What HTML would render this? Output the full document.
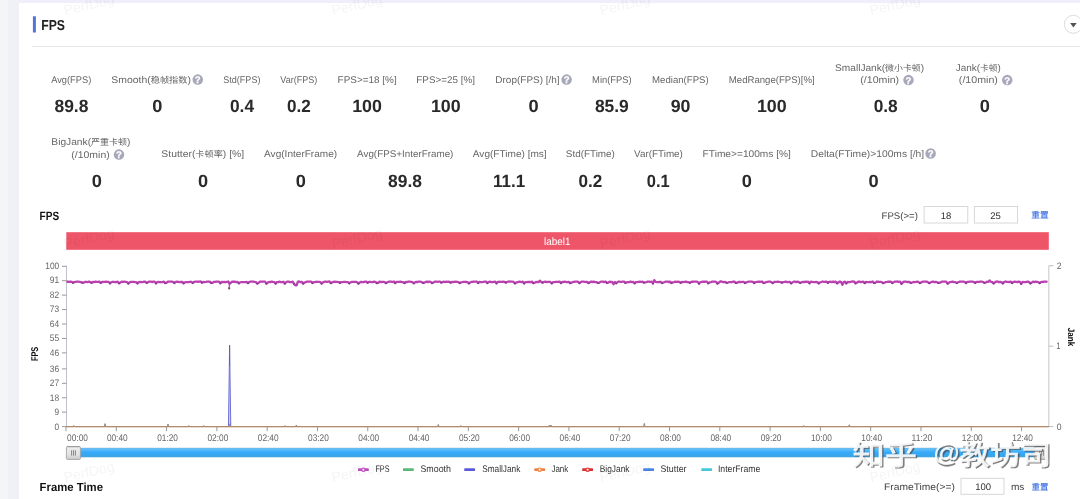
<!DOCTYPE html>
<html lang="zh-CN">
<head>
<meta charset="utf-8">
<title>PerfDog - FPS</title>
<style>
html,body{margin:0;padding:0;}
body{width:1080px;height:499px;overflow:hidden;background:#f4f5f9;position:relative;
font-family:"Liberation Sans", "Noto Sans CJK SC", sans-serif;}
.topbar{position:absolute;left:18.6px;top:0;width:1080px;height:3px;background:#efeefa;}
.side{position:absolute;left:8px;top:0;width:11px;height:499px;background:#f0f1f7;}
.card{position:absolute;left:18.6px;top:2.6px;width:1062px;height:499px;background:#fff;}
svg{position:absolute;left:0;top:0;display:block;font-family:"Liberation Sans", "Noto Sans CJK SC", sans-serif;filter:blur(0.35px);}
svg text{white-space:pre;text-rendering:geometricPrecision;}
</style>
</head>
<body>
<div class="side"></div>
<div class="topbar"></div>
<div class="card"></div>
<svg width="1080" height="499" viewBox="0 0 1080 499">
<g id="panel-header">
<rect x="32.9" y="16.3" width="3.0" height="16.2" fill="#5673d9"/>
<text x="41.20" y="30.00" font-size="14.4" fill="#222" font-weight="bold" textLength="23.80" lengthAdjust="spacingAndGlyphs">FPS</text>
<rect x="32" y="46" width="1048" height="1" fill="#e8e8eb"/>
<circle cx="1073.3" cy="24.3" r="9" fill="#fff" stroke="#dcdcdc" stroke-width="1"/>
<path d="M1070.1 22.9h6.6l-3.3 4.6z" fill="#555"/>
</g>
<g id="fps-stats">
<text x="51.20" y="82.90" font-size="9.7" fill="#666" textLength="40.10" lengthAdjust="spacingAndGlyphs">Avg(FPS)</text>
<text x="54.45" y="112.35" font-size="17.7" fill="#2a2a2a" font-weight="bold" textLength="33.93" lengthAdjust="spacingAndGlyphs">89.8</text>
<text x="111.35" y="82.90" font-size="9.7" fill="#666" textLength="79.55" lengthAdjust="spacingAndGlyphs">Smooth(<tspan font-size="8.54">稳帧指数</tspan>)</text>
<g class="help"><circle cx="197.80" cy="79.60" r="5.25" fill="#a7a8ba"/><text x="197.80" y="83.05" font-size="9.6" font-weight="bold" fill="#fff" stroke="#fff" stroke-width="0.25" text-anchor="middle">?</text></g>
<text x="152.30" y="112.35" font-size="17.7" fill="#2a2a2a" font-weight="bold" textLength="10.14" lengthAdjust="spacingAndGlyphs">0</text>
<text x="223.35" y="82.90" font-size="9.7" fill="#666" textLength="37.05" lengthAdjust="spacingAndGlyphs">Std(FPS)</text>
<text x="229.95" y="112.35" font-size="17.7" fill="#2a2a2a" font-weight="bold" textLength="24.08" lengthAdjust="spacingAndGlyphs">0.4</text>
<text x="280.35" y="82.90" font-size="9.7" fill="#666" textLength="37.05" lengthAdjust="spacingAndGlyphs">Var(FPS)</text>
<text x="287.10" y="112.35" font-size="17.7" fill="#2a2a2a" font-weight="bold" textLength="23.79" lengthAdjust="spacingAndGlyphs">0.2</text>
<text x="337.60" y="82.90" font-size="9.7" fill="#666" textLength="59.05" lengthAdjust="spacingAndGlyphs">FPS&gt;=18 [%]</text>
<text x="352.15" y="112.35" font-size="17.7" fill="#2a2a2a" font-weight="bold" textLength="29.74" lengthAdjust="spacingAndGlyphs">100</text>
<text x="416.35" y="82.90" font-size="9.7" fill="#666" textLength="58.55" lengthAdjust="spacingAndGlyphs">FPS&gt;=25 [%]</text>
<text x="430.95" y="112.35" font-size="17.7" fill="#2a2a2a" font-weight="bold" textLength="29.74" lengthAdjust="spacingAndGlyphs">100</text>
<text x="495.35" y="82.90" font-size="9.7" fill="#666" textLength="64.30" lengthAdjust="spacingAndGlyphs">Drop(FPS) [/h]</text>
<g class="help"><circle cx="566.60" cy="79.60" r="5.25" fill="#a7a8ba"/><text x="566.60" y="83.05" font-size="9.6" font-weight="bold" fill="#fff" stroke="#fff" stroke-width="0.25" text-anchor="middle">?</text></g>
<text x="528.60" y="112.35" font-size="17.7" fill="#2a2a2a" font-weight="bold" textLength="10.14" lengthAdjust="spacingAndGlyphs">0</text>
<text x="592.10" y="82.90" font-size="9.7" fill="#666" textLength="39.55" lengthAdjust="spacingAndGlyphs">Min(FPS)</text>
<text x="594.90" y="112.35" font-size="17.7" fill="#2a2a2a" font-weight="bold" textLength="33.93" lengthAdjust="spacingAndGlyphs">85.9</text>
<text x="652.10" y="82.90" font-size="9.7" fill="#666" textLength="56.55" lengthAdjust="spacingAndGlyphs">Median(FPS)</text>
<text x="670.65" y="112.35" font-size="17.7" fill="#2a2a2a" font-weight="bold" textLength="19.79" lengthAdjust="spacingAndGlyphs">90</text>
<text x="728.85" y="82.90" font-size="9.7" fill="#666" textLength="85.80" lengthAdjust="spacingAndGlyphs">MedRange(FPS)[%]</text>
<text x="756.95" y="112.35" font-size="17.7" fill="#2a2a2a" font-weight="bold" textLength="29.74" lengthAdjust="spacingAndGlyphs">100</text>
<text x="835.10" y="71.00" font-size="9.7" fill="#666" textLength="89.05" lengthAdjust="spacingAndGlyphs">SmallJank(<tspan font-size="8.54">微小卡顿</tspan>)</text>
<text x="860.35" y="83.40" font-size="9.7" fill="#666" textLength="38.80" lengthAdjust="spacingAndGlyphs">(/10min)</text>
<g class="help"><circle cx="908.50" cy="80.10" r="5.25" fill="#a7a8ba"/><text x="908.50" y="83.55" font-size="9.6" font-weight="bold" fill="#fff" stroke="#fff" stroke-width="0.25" text-anchor="middle">?</text></g>
<text x="873.65" y="112.35" font-size="17.7" fill="#2a2a2a" font-weight="bold" textLength="24.08" lengthAdjust="spacingAndGlyphs">0.8</text>
<text x="955.85" y="71.00" font-size="9.7" fill="#666" textLength="45.05" lengthAdjust="spacingAndGlyphs">Jank(<tspan font-size="8.54">卡顿</tspan>)</text>
<text x="958.85" y="83.40" font-size="9.7" fill="#666" textLength="39.05" lengthAdjust="spacingAndGlyphs">(/10min)</text>
<g class="help"><circle cx="1007.25" cy="80.10" r="5.25" fill="#a7a8ba"/><text x="1007.25" y="83.55" font-size="9.6" font-weight="bold" fill="#fff" stroke="#fff" stroke-width="0.25" text-anchor="middle">?</text></g>
<text x="979.80" y="112.35" font-size="17.7" fill="#2a2a2a" font-weight="bold" textLength="10.14" lengthAdjust="spacingAndGlyphs">0</text>
<text x="51.35" y="145.00" font-size="9.7" fill="#666" textLength="79.05" lengthAdjust="spacingAndGlyphs">BigJank(<tspan font-size="8.54">严重卡顿</tspan>)</text>
<text x="71.35" y="157.60" font-size="9.7" fill="#666" textLength="38.35" lengthAdjust="spacingAndGlyphs">(/10min)</text>
<g class="help"><circle cx="119.00" cy="154.60" r="5.25" fill="#a7a8ba"/><text x="119.00" y="158.05" font-size="9.6" font-weight="bold" fill="#fff" stroke="#fff" stroke-width="0.25" text-anchor="middle">?</text></g>
<text x="91.70" y="186.80" font-size="17.7" fill="#2a2a2a" font-weight="bold" textLength="10.14" lengthAdjust="spacingAndGlyphs">0</text>
<text x="161.35" y="156.85" font-size="9.7" fill="#666" textLength="82.80" lengthAdjust="spacingAndGlyphs">Stutter(<tspan font-size="8.54">卡顿率</tspan>) [%]</text>
<text x="197.95" y="186.80" font-size="17.7" fill="#2a2a2a" font-weight="bold" textLength="10.14" lengthAdjust="spacingAndGlyphs">0</text>
<text x="264.10" y="156.85" font-size="9.7" fill="#666" textLength="73.05" lengthAdjust="spacingAndGlyphs">Avg(InterFrame)</text>
<text x="295.80" y="186.80" font-size="17.7" fill="#2a2a2a" font-weight="bold" textLength="10.14" lengthAdjust="spacingAndGlyphs">0</text>
<text x="357.10" y="156.85" font-size="9.7" fill="#666" textLength="96.30" lengthAdjust="spacingAndGlyphs">Avg(FPS+InterFrame)</text>
<text x="388.10" y="186.80" font-size="17.7" fill="#2a2a2a" font-weight="bold" textLength="33.93" lengthAdjust="spacingAndGlyphs">89.8</text>
<text x="472.85" y="156.85" font-size="9.7" fill="#666" textLength="73.80" lengthAdjust="spacingAndGlyphs">Avg(FTime) [ms]</text>
<text x="493.00" y="186.80" font-size="17.7" fill="#2a2a2a" font-weight="bold" textLength="32.17" lengthAdjust="spacingAndGlyphs">11.1</text>
<text x="565.85" y="156.85" font-size="9.7" fill="#666" textLength="49.05" lengthAdjust="spacingAndGlyphs">Std(FTime)</text>
<text x="578.60" y="186.80" font-size="17.7" fill="#2a2a2a" font-weight="bold" textLength="23.79" lengthAdjust="spacingAndGlyphs">0.2</text>
<text x="634.10" y="156.85" font-size="9.7" fill="#666" textLength="48.80" lengthAdjust="spacingAndGlyphs">Var(FTime)</text>
<text x="646.85" y="186.80" font-size="17.7" fill="#2a2a2a" font-weight="bold" textLength="22.91" lengthAdjust="spacingAndGlyphs">0.1</text>
<text x="702.60" y="156.85" font-size="9.7" fill="#666" textLength="88.30" lengthAdjust="spacingAndGlyphs">FTime&gt;=100ms [%]</text>
<text x="741.80" y="186.80" font-size="17.7" fill="#2a2a2a" font-weight="bold" textLength="10.14" lengthAdjust="spacingAndGlyphs">0</text>
<text x="810.85" y="156.85" font-size="9.7" fill="#666" textLength="113.30" lengthAdjust="spacingAndGlyphs">Delta(FTime)&gt;100ms [/h]</text>
<g class="help"><circle cx="930.60" cy="153.55" r="5.25" fill="#a7a8ba"/><text x="930.60" y="157.00" font-size="9.6" font-weight="bold" fill="#fff" stroke="#fff" stroke-width="0.25" text-anchor="middle">?</text></g>
<text x="868.60" y="186.80" font-size="17.7" fill="#2a2a2a" font-weight="bold" textLength="10.14" lengthAdjust="spacingAndGlyphs">0</text>
</g>
<g id="fps-chart-toolbar">
<text x="39.60" y="219.80" font-size="12" fill="#111" font-weight="bold" textLength="19.55" lengthAdjust="spacingAndGlyphs">FPS</text>
<text x="881.50" y="218.80" font-size="9.6" fill="#444" textLength="36.40" lengthAdjust="spacingAndGlyphs">FPS(&gt;=)</text>
<rect x="924.10" y="206.5" width="43.65" height="16.5" fill="#fff" stroke="#d8d8d8" stroke-width="1"/>
<text x="946.10" y="218.50" font-size="9.5" fill="#333" text-anchor="middle">18</text>
<rect x="974.40" y="206.5" width="43.10" height="16.5" fill="#fff" stroke="#d8d8d8" stroke-width="1"/>
<text x="995.60" y="218.50" font-size="9.5" fill="#333" text-anchor="middle">25</text>
<text x="1031.30" y="218.30" font-size="8.6" fill="#5380e6" font-weight="bold" textLength="17.40" lengthAdjust="spacingAndGlyphs">重置</text>
<rect x="66.3" y="232.2" width="982.5" height="17.6" fill="#ee5568"/>
<text x="544.10" y="244.70" font-size="10.6" fill="#fff" textLength="26.30" lengthAdjust="spacingAndGlyphs">label1</text>
</g>
<g id="fps-chart-plot">
<path d="M66.5 265.8V427.1" stroke="#c0c2d0" stroke-width="1" fill="none"/>
<path d="M1048.8 265.8V427.1" stroke="#cfcfcf" stroke-width="1.2" fill="none"/>
<text x="54.60" y="429.80" font-size="9.4" fill="#666" textLength="4.60" lengthAdjust="spacingAndGlyphs">0</text>
<text x="54.60" y="415.29" font-size="9.4" fill="#666" textLength="4.60" lengthAdjust="spacingAndGlyphs">9</text>
<text x="49.80" y="400.78" font-size="9.4" fill="#666" textLength="9.40" lengthAdjust="spacingAndGlyphs">18</text>
<text x="49.80" y="386.28" font-size="9.4" fill="#666" textLength="9.40" lengthAdjust="spacingAndGlyphs">27</text>
<text x="49.80" y="371.77" font-size="9.4" fill="#666" textLength="9.40" lengthAdjust="spacingAndGlyphs">36</text>
<text x="49.80" y="355.65" font-size="9.4" fill="#666" textLength="9.40" lengthAdjust="spacingAndGlyphs">46</text>
<text x="49.80" y="341.14" font-size="9.4" fill="#666" textLength="9.40" lengthAdjust="spacingAndGlyphs">55</text>
<text x="49.80" y="326.63" font-size="9.4" fill="#666" textLength="9.40" lengthAdjust="spacingAndGlyphs">64</text>
<text x="49.80" y="312.12" font-size="9.4" fill="#666" textLength="9.40" lengthAdjust="spacingAndGlyphs">73</text>
<text x="49.80" y="297.62" font-size="9.4" fill="#666" textLength="9.40" lengthAdjust="spacingAndGlyphs">82</text>
<text x="49.80" y="283.11" font-size="9.4" fill="#666" textLength="9.40" lengthAdjust="spacingAndGlyphs">91</text>
<text x="45.30" y="268.60" font-size="9.4" fill="#666" textLength="13.90" lengthAdjust="spacingAndGlyphs">100</text>
<path d="M62.0 426.60H66.5M62.0 412.17H66.5M62.0 397.75H66.5M62.0 383.32H66.5M62.0 368.89H66.5M62.0 352.86H66.5M62.0 338.44H66.5M62.0 324.01H66.5M62.0 309.58H66.5M62.0 295.15H66.5M62.0 280.73H66.5M62.0 266.30H66.5" stroke="#999" stroke-width="1" fill="none"/>
<text x="1056.70" y="429.80" font-size="9.4" fill="#666" textLength="4.80" lengthAdjust="spacingAndGlyphs">0</text>
<text x="1056.30" y="349.20" font-size="9.4" fill="#666" textLength="4.30" lengthAdjust="spacingAndGlyphs">1</text>
<text x="1056.70" y="268.60" font-size="9.4" fill="#666" textLength="4.80" lengthAdjust="spacingAndGlyphs">2</text>
<path d="M1048.8 426.60h4.5M1048.8 346.15h4.5M1048.8 265.70h4.5" stroke="#bbb" stroke-width="1" fill="none"/>
<text x="67.10" y="440.80" font-size="9.6" fill="#666" textLength="20.80" lengthAdjust="spacingAndGlyphs">00:00</text>
<text x="106.89" y="440.80" font-size="9.6" fill="#666" textLength="20.80" lengthAdjust="spacingAndGlyphs">00:40</text>
<text x="157.18" y="440.80" font-size="9.6" fill="#666" textLength="20.80" lengthAdjust="spacingAndGlyphs">01:20</text>
<text x="207.47" y="440.80" font-size="9.6" fill="#666" textLength="20.80" lengthAdjust="spacingAndGlyphs">02:00</text>
<text x="257.77" y="440.80" font-size="9.6" fill="#666" textLength="20.80" lengthAdjust="spacingAndGlyphs">02:40</text>
<text x="308.06" y="440.80" font-size="9.6" fill="#666" textLength="20.80" lengthAdjust="spacingAndGlyphs">03:20</text>
<text x="358.35" y="440.80" font-size="9.6" fill="#666" textLength="20.80" lengthAdjust="spacingAndGlyphs">04:00</text>
<text x="408.64" y="440.80" font-size="9.6" fill="#666" textLength="20.80" lengthAdjust="spacingAndGlyphs">04:40</text>
<text x="458.93" y="440.80" font-size="9.6" fill="#666" textLength="20.80" lengthAdjust="spacingAndGlyphs">05:20</text>
<text x="509.22" y="440.80" font-size="9.6" fill="#666" textLength="20.80" lengthAdjust="spacingAndGlyphs">06:00</text>
<text x="559.52" y="440.80" font-size="9.6" fill="#666" textLength="20.80" lengthAdjust="spacingAndGlyphs">06:40</text>
<text x="609.81" y="440.80" font-size="9.6" fill="#666" textLength="20.80" lengthAdjust="spacingAndGlyphs">07:20</text>
<text x="660.10" y="440.80" font-size="9.6" fill="#666" textLength="20.80" lengthAdjust="spacingAndGlyphs">08:00</text>
<text x="710.39" y="440.80" font-size="9.6" fill="#666" textLength="20.80" lengthAdjust="spacingAndGlyphs">08:40</text>
<text x="760.68" y="440.80" font-size="9.6" fill="#666" textLength="20.80" lengthAdjust="spacingAndGlyphs">09:20</text>
<text x="810.98" y="440.80" font-size="9.6" fill="#666" textLength="20.80" lengthAdjust="spacingAndGlyphs">10:00</text>
<text x="861.27" y="440.80" font-size="9.6" fill="#666" textLength="20.80" lengthAdjust="spacingAndGlyphs">10:40</text>
<text x="911.56" y="440.80" font-size="9.6" fill="#666" textLength="20.80" lengthAdjust="spacingAndGlyphs">11:20</text>
<text x="961.85" y="440.80" font-size="9.6" fill="#666" textLength="20.80" lengthAdjust="spacingAndGlyphs">12:00</text>
<text x="1012.14" y="440.80" font-size="9.6" fill="#666" textLength="20.80" lengthAdjust="spacingAndGlyphs">12:40</text>
<path d="M66.00 426.6v4.6M116.29 426.6v4.6M166.58 426.6v4.6M216.88 426.6v4.6M267.17 426.6v4.6M317.46 426.6v4.6M367.75 426.6v4.6M418.04 426.6v4.6M468.33 426.6v4.6M518.62 426.6v4.6M568.92 426.6v4.6M619.21 426.6v4.6M669.50 426.6v4.6M719.79 426.6v4.6M770.08 426.6v4.6M820.38 426.6v4.6M870.67 426.6v4.6M920.96 426.6v4.6M971.25 426.6v4.6M1021.54 426.6v4.6" stroke="#999" stroke-width="1" fill="none"/>
<text transform="translate(38.2 353.9) rotate(-90)" font-size="9.8" font-weight="bold" fill="#111" text-anchor="middle" textLength="14.4" lengthAdjust="spacingAndGlyphs">FPS</text>
<text transform="translate(1068.2 337) rotate(90)" font-size="9.4" font-weight="bold" fill="#111" text-anchor="middle" textLength="18.5" lengthAdjust="spacingAndGlyphs">Jank</text>
<path d="M228.45 426.6L229.6 345.4L230.75 426.6" fill="#d0d0f4" stroke="#6a6ad4" stroke-width="0.95" stroke-linejoin="round"/>
<path d="M229.6 345.2V366" stroke="#606088" stroke-width="0.8" fill="none"/>
<path d="M228.4 423.40000000000003l2.4 3M230.79999999999998 423.40000000000003l-2.4 3" stroke="#6a6aa8" stroke-width="0.6" fill="none"/>
<path d="M66.5 426.6L73.0 426.6L73.8 425.5L74.6 426.6L104.2 426.6L105.0 423.6L105.8 426.6L167.2 426.6L168.0 424.0L168.8 426.6L188.0 426.6L188.8 425.5L189.6 426.6L203.0 426.6L203.8 425.5L204.6 426.6L284.2 426.6L285.0 425.5L285.8 426.6L295.5 426.6L296.3 425.0L297.1 426.6L437.5 426.6L438.3 424.5L439.1 426.6L460.0 426.6L460.8 425.5L461.6 426.6L548.6 426.6L549.4 425.0L550.2 426.6L550.2 426.6L551.0 425.0L551.8 426.6L643.5 426.6L644.3 423.4L645.1 426.6L803.0 426.6L803.8 425.5L804.6 426.6L848.5 426.6L849.3 424.7L850.1 426.6L1048.8 426.6" stroke="#8a8468" stroke-width="1" fill="none" opacity="0.9"/>
<path d="M66.5 426.70000000000005H1048.8" stroke="#b08c6c" stroke-width="1.25" fill="none"/>
<path d="M66.5 281.73L67.8 281.61L69.1 281.96L70.4 281.55L71.8 281.88L73.1 282.70L74.4 282.08L75.7 281.80L77.0 281.55L78.3 281.56L79.6 281.80L81.0 282.08L82.3 282.67L83.6 282.71L84.9 281.90L86.2 281.78L87.5 282.18L88.9 281.53L90.2 282.10L91.5 282.72L92.8 281.97L94.1 282.07L95.4 281.63L96.7 281.91L98.1 281.95L99.4 281.76L100.7 282.83L102.0 281.87L103.3 281.98L104.6 281.80L105.9 281.72L107.3 281.91L108.6 281.82L109.9 283.25L111.2 282.34L112.5 281.90L113.8 281.87L115.2 282.11L116.5 282.01L117.8 281.70L119.1 283.18L120.4 282.45L121.7 281.61L123.0 281.84L124.4 281.53L125.7 281.97L127.0 282.04L128.3 283.50L129.6 282.34L130.9 281.92L132.2 281.91L133.6 281.82L134.9 282.09L136.2 282.16L137.5 283.26L138.8 282.16L140.1 281.95L141.5 282.20L142.8 282.08L144.1 281.70L145.4 281.77L146.7 282.89L148.0 282.12L149.3 281.58L150.7 281.54L152.0 282.04L153.3 281.59L154.6 281.67L155.9 283.37L157.2 282.03L158.5 281.88L159.9 282.12L161.2 282.07L162.5 282.10L163.8 281.69L165.1 282.98L166.4 282.89L167.8 281.61L169.1 281.62L170.4 281.66L171.7 281.66L173.0 281.84L174.3 283.02L175.6 281.95L177.0 281.76L178.3 281.90L179.6 282.17L180.9 281.98L182.2 281.86L183.5 283.37L184.8 282.28L186.2 282.05L187.5 282.11L188.8 282.06L190.1 281.77L191.4 281.78L192.7 282.98L194.1 281.78L195.4 281.65L196.7 281.61L198.0 281.74L199.3 281.54L200.6 281.50L201.9 282.59L203.3 281.97L204.6 282.11L205.9 281.93L207.2 281.60L208.5 281.68L209.8 281.74L211.1 282.75L212.5 282.89L213.8 281.83L215.1 281.84L216.4 281.56L217.7 281.57L219.0 281.74L220.4 283.25L221.7 281.83L223.0 282.17L224.3 281.87L225.6 282.25L226.9 281.88L228.2 281.52L229.6 283.55L230.9 282.72L232.2 281.68L233.5 281.76L234.8 281.62L236.1 282.04L237.4 281.87L238.8 283.21L240.1 282.34L241.4 282.19L242.7 282.10L244.0 282.06L245.3 282.07L246.7 282.02L248.0 282.97L249.3 281.97L250.6 281.52L251.9 281.70L253.2 281.68L254.5 281.98L255.9 282.17L257.2 283.46L258.5 282.96L259.8 281.76L261.1 281.65L262.4 281.66L263.7 281.64L265.1 281.64L266.4 283.56L267.7 282.58L269.0 281.96L270.3 282.06L271.6 281.56L273.0 281.96L274.3 282.14L275.6 283.55L276.9 282.14L278.2 282.05L279.5 281.73L280.8 282.06L282.2 282.18L283.5 281.78L284.8 283.44L286.1 282.31L287.4 281.59L288.7 281.61L290.0 282.13L291.4 282.06L292.7 281.60L294.0 283.76L295.3 285.25L296.6 285.25L297.9 281.59L299.3 281.51L300.6 282.18L301.9 281.95L303.2 283.52L304.5 282.53L305.8 282.08L307.1 281.65L308.5 281.68L309.8 281.71L311.1 281.67L312.4 283.02L313.7 282.07L315.0 282.14L316.3 281.75L317.7 281.82L319.0 281.91L320.3 282.13L321.6 283.43L322.9 282.37L324.2 281.87L325.6 281.51L326.9 281.81L328.2 281.63L329.5 281.50L330.8 283.10L332.1 282.47L333.4 281.89L334.8 281.73L336.1 281.86L337.4 281.89L338.7 282.05L340.0 282.92L341.3 282.04L342.6 282.04L344.0 281.86L345.3 281.89L346.6 282.03L347.9 282.14L349.2 283.20L350.5 282.36L351.9 281.98L353.2 281.82L354.5 281.87L355.8 281.83L357.1 282.16L358.4 283.59L359.7 282.52L361.1 281.89L362.4 282.16L363.7 282.09L365.0 281.60L366.3 281.59L367.6 282.77L368.9 281.91L370.3 281.97L371.6 282.05L372.9 282.13L374.2 281.61L375.5 282.00L376.8 282.98L378.2 282.90L379.5 281.65L380.8 282.17L382.1 281.78L383.4 281.84L384.7 282.19L386.0 283.11L387.4 282.31L388.7 281.74L390.0 281.64L391.3 281.72L392.6 282.01L393.9 281.51L395.2 283.14L396.6 281.91L397.9 281.94L399.2 281.86L400.5 281.55L401.8 282.19L403.1 282.05L404.5 283.16L405.8 281.91L407.1 282.05L408.4 281.69L409.7 281.59L411.0 281.80L412.3 282.14L413.7 283.18L415.0 282.36L416.3 281.90L417.6 281.99L418.9 281.56L420.2 281.54L421.5 281.98L422.9 282.76L424.2 282.74L425.5 282.06L426.8 281.56L428.1 282.10L429.4 281.55L430.8 282.10L432.1 282.99L433.4 282.64L434.7 281.69L436.0 281.59L437.3 281.87L438.6 281.67L440.0 281.58L441.3 282.55L442.6 282.03L443.9 281.71L445.2 282.03L446.5 281.70L447.8 281.85L449.2 281.62L450.5 282.66L451.8 281.88L453.1 282.01L454.4 281.89L455.7 281.63L457.1 281.83L458.4 282.15L459.7 283.13L461.0 282.30L462.3 282.08L463.6 281.78L464.9 281.85L466.3 281.98L467.6 282.19L468.9 283.31L470.2 282.58L471.5 281.78L472.8 281.74L474.1 281.54L475.5 281.59L476.8 281.55L478.1 283.12L479.4 281.86L480.7 282.09L482.0 282.11L483.4 281.97L484.7 281.70L486.0 281.67L487.3 282.97L488.6 282.08L489.9 281.68L491.2 282.17L492.6 282.18L493.9 281.88L495.2 281.67L496.5 283.32L497.8 281.95L499.1 281.77L500.4 281.83L501.8 281.85L503.1 281.64L504.4 281.85L505.7 282.61L507.0 282.00L508.3 281.53L509.7 281.52L511.0 281.71L512.3 281.66L513.6 281.91L514.9 283.37L516.2 282.59L517.5 282.12L518.9 281.77L520.2 281.73L521.5 282.19L522.8 281.60L524.1 283.42L525.4 282.23L526.7 282.12L528.1 281.94L529.4 282.01L530.7 282.07L532.0 281.60L533.3 283.17L534.6 282.77L536.0 282.08L537.3 281.91L538.6 282.12L539.9 280.65L541.2 281.99L542.5 282.59L543.8 282.01L545.2 281.57L546.5 282.09L547.8 281.89L549.1 281.94L550.4 281.94L551.7 283.27L553.1 282.18L554.4 282.02L555.7 281.85L557.0 281.87L558.3 281.96L559.6 281.55L560.9 283.12L562.3 281.91L563.6 282.01L564.9 281.64L566.2 282.02L567.5 282.18L568.8 281.85L570.1 283.05L571.5 282.64L572.8 281.93L574.1 281.95L575.4 281.55L576.7 281.60L578.0 281.68L579.4 283.16L580.7 282.10L582.0 281.54L583.3 281.69L584.6 281.97L585.9 281.98L587.2 281.97L588.6 283.02L589.9 282.31L591.2 281.58L592.5 282.13L593.8 281.64L595.1 282.18L596.4 282.16L597.8 282.78L599.1 282.85L600.4 281.81L601.7 281.69L603.0 281.65L604.3 282.16L605.7 281.65L607.0 282.92L608.3 282.64L609.6 281.59L610.9 282.07L612.2 281.86L613.5 284.25L614.9 281.99L616.2 283.28L617.5 282.06L618.8 281.50L620.1 281.84L621.4 281.82L622.7 281.71L624.1 281.60L625.4 282.89L626.7 282.29L628.0 282.03L629.3 282.09L630.6 281.58L632.0 282.15L633.3 282.00L634.6 283.26L635.9 282.20L637.2 282.20L638.5 281.91L639.8 281.75L641.2 281.80L642.5 281.69L643.8 282.52L645.1 282.46L646.4 282.15L647.7 281.67L649.0 281.69L650.4 281.86L651.7 281.63L653.0 283.43L654.3 280.15L655.6 281.94L656.9 282.14L658.3 282.16L659.6 281.88L660.9 282.00L662.2 283.02L663.5 282.47L664.8 281.95L666.1 281.70L667.5 281.53L668.8 282.15L670.1 281.59L671.4 283.01L672.7 282.35L674.0 282.18L675.3 281.68L676.7 281.96L678.0 281.71L679.3 281.89L680.6 282.81L681.9 281.94L683.2 282.13L684.6 281.85L685.9 281.65L687.2 282.13L688.5 282.20L689.8 282.83L691.1 281.89L692.4 281.74L693.8 281.56L695.1 281.67L696.4 281.68L697.7 281.90L699.0 283.62L700.3 282.24L701.6 281.87L703.0 281.76L704.3 281.74L705.6 281.54L706.9 281.69L708.2 283.18L709.5 282.43L710.9 282.10L712.2 281.65L713.5 281.69L714.8 281.67L716.1 281.78L717.4 283.48L718.7 282.82L720.1 281.52L721.4 281.52L722.7 282.00L724.0 282.13L725.3 281.83L726.6 282.81L727.9 282.53L729.3 282.08L730.6 282.10L731.9 282.18L733.2 281.67L734.5 281.58L735.8 282.93L737.2 282.74L738.5 282.01L739.8 281.95L741.1 282.04L742.4 281.82L743.7 281.89L745.0 283.05L746.4 282.41L747.7 281.95L749.0 281.71L750.3 281.59L751.6 281.68L752.9 281.95L754.2 282.98L755.6 282.06L756.9 281.91L758.2 281.77L759.5 281.66L760.8 281.92L762.1 281.51L763.5 282.98L764.8 282.76L766.1 282.12L767.4 281.83L768.7 281.66L770.0 281.67L771.3 282.17L772.7 283.14L774.0 282.01L775.3 281.97L776.6 281.79L777.9 281.68L779.2 281.97L780.5 282.15L781.9 282.59L783.2 282.19L784.5 281.98L785.8 281.64L787.1 282.06L788.4 282.02L789.8 281.85L791.1 283.32L792.4 282.41L793.7 281.66L795.0 281.66L796.3 282.03L797.6 281.71L799.0 282.17L800.3 282.90L801.6 282.11L802.9 281.97L804.2 282.16L805.5 281.60L806.8 281.78L808.2 281.65L809.5 283.20L810.8 281.77L812.1 281.78L813.4 282.13L814.7 282.12L816.1 282.01L817.4 282.20L818.7 283.32L820.0 282.39L821.3 282.02L822.6 281.52L823.9 281.97L825.3 281.77L826.6 281.76L827.9 282.77L829.2 281.87L830.5 281.75L831.8 282.17L833.1 281.59L834.5 282.17L835.8 281.65L837.1 283.31L838.4 282.53L839.7 281.53L841.0 281.83L842.4 284.85L843.7 282.14L845.0 281.64L846.3 283.37L847.6 281.97L848.9 282.07L850.2 282.04L851.6 281.53L852.9 281.52L854.2 281.54L855.5 283.25L856.8 282.76L858.1 281.74L859.4 281.69L860.8 282.17L862.1 281.93L863.4 281.68L864.7 283.15L866.0 281.90L867.3 282.03L868.7 282.14L870.0 281.94L871.3 282.16L872.6 281.52L873.9 282.94L875.2 282.94L876.5 281.77L877.9 281.68L879.2 281.80L880.5 281.85L881.8 282.15L883.1 283.17L884.4 282.71L885.7 282.04L887.1 281.93L888.4 281.73L889.7 281.72L891.0 281.75L892.3 283.01L893.6 282.29L895.0 281.67L896.3 281.55L897.6 281.52L898.9 281.89L900.2 281.73L901.5 283.79L902.8 282.55L904.2 281.56L905.5 281.57L906.8 281.85L908.1 282.00L909.4 281.81L910.7 282.90L912.0 282.54L913.4 282.02L914.7 282.09L916.0 281.97L917.3 281.58L918.6 282.09L919.9 283.06L921.3 282.40L922.6 281.64L923.9 281.67L925.2 281.67L926.5 281.61L927.8 282.12L929.1 283.07L930.5 282.57L931.8 281.86L933.1 281.66L934.4 282.07L935.7 281.96L937.0 282.19L938.3 282.85L939.7 282.78L941.0 282.14L942.3 281.53L943.6 281.71L944.9 281.58L946.2 281.63L947.6 283.55L948.9 282.57L950.2 282.11L951.5 281.81L952.8 281.68L954.1 282.04L955.4 282.16L956.8 282.95L958.1 282.26L959.4 281.76L960.7 281.60L962.0 281.64L963.3 281.68L964.6 281.92L966.0 283.02L967.3 281.90L968.6 281.97L969.9 281.63L971.2 281.72L972.5 281.64L973.9 282.06L975.2 282.83L976.5 282.01L977.8 281.89L979.1 281.95L980.4 281.56L981.7 281.61L983.1 281.99L984.4 282.91L985.7 282.49L987.0 281.72L988.3 281.90L989.6 280.45L990.9 281.79L992.3 282.10L993.6 283.39L994.9 282.27L996.2 281.64L997.5 281.50L998.8 282.13L1000.2 281.80L1001.5 282.07L1002.8 283.39L1004.1 282.12L1005.4 281.51L1006.7 281.89L1008.0 281.95L1009.4 282.14L1010.7 281.56L1012.0 283.13L1013.3 282.14L1014.6 281.70L1015.9 281.86L1017.2 282.15L1018.6 281.58L1019.9 281.84L1021.2 283.74L1022.5 281.91L1023.8 282.16L1025.1 282.18L1026.5 281.84L1027.8 281.54L1029.1 282.15L1030.4 283.39L1031.7 282.63L1033.0 281.61L1034.3 282.05L1035.7 281.66L1037.0 281.78L1038.3 282.09L1039.6 283.13L1040.9 282.09L1042.2 281.86L1043.5 281.77L1044.9 281.59L1046.2 281.67L1047.5 282.01" stroke="#ba41af" stroke-width="2.3" stroke-linejoin="round" fill="none"/>
<path d="M72.2 282.90h1.8M81.4 282.87h1.8M90.6 282.92h1.8M99.8 283.03h1.8M109.0 283.45h1.8M118.2 283.38h1.8M127.4 283.70h1.8M136.6 283.46h1.8M145.8 283.09h1.8M155.0 283.57h1.8M164.2 283.18h1.8M173.4 283.22h1.8M182.6 283.57h1.8M191.8 283.18h1.8M201.0 282.79h1.8M210.2 282.95h1.8M219.5 283.45h1.8M228.7 283.75h1.8M237.9 283.41h1.8M247.1 283.17h1.8M256.3 283.66h1.8M265.5 283.76h1.8M274.7 283.75h1.8M283.9 283.64h1.8M293.1 283.96h1.8M302.3 283.72h1.8M311.5 283.22h1.8M320.7 283.63h1.8M329.9 283.30h1.8M339.1 283.12h1.8M348.3 283.40h1.8M357.5 283.79h1.8M366.7 282.97h1.8M375.9 283.18h1.8M385.1 283.31h1.8M394.3 283.34h1.8M403.6 283.36h1.8M412.8 283.38h1.8M422.0 282.96h1.8M431.2 283.19h1.8M440.4 282.75h1.8M449.6 282.86h1.8M458.8 283.33h1.8M468.0 283.51h1.8M477.2 283.32h1.8M486.4 283.17h1.8M495.6 283.52h1.8M504.8 282.81h1.8M514.0 283.57h1.8M523.2 283.62h1.8M532.4 283.37h1.8M541.6 282.79h1.8M550.8 283.47h1.8M560.0 283.32h1.8M569.2 283.25h1.8M578.5 283.36h1.8M587.7 283.22h1.8M596.9 282.98h1.8M606.1 283.12h1.8M615.3 283.48h1.8M624.5 283.09h1.8M633.7 283.46h1.8M642.9 282.72h1.8M652.1 283.63h1.8M661.3 283.22h1.8M670.5 283.21h1.8M679.7 283.01h1.8M688.9 283.03h1.8M698.1 283.82h1.8M707.3 283.38h1.8M716.5 283.68h1.8M725.7 283.01h1.8M734.9 283.13h1.8M744.1 283.25h1.8M753.3 283.18h1.8M762.6 283.18h1.8M771.8 283.34h1.8M781.0 282.79h1.8M790.2 283.52h1.8M799.4 283.10h1.8M808.6 283.40h1.8M817.8 283.52h1.8M827.0 282.97h1.8M836.2 283.51h1.8M845.4 283.57h1.8M854.6 283.45h1.8M863.8 283.35h1.8M873.0 283.14h1.8M882.2 283.37h1.8M891.4 283.21h1.8M900.6 283.99h1.8M909.8 283.10h1.8M919.0 283.26h1.8M928.2 283.27h1.8M937.4 283.05h1.8M946.7 283.75h1.8M955.9 283.15h1.8M965.1 283.22h1.8M974.3 283.03h1.8M983.5 283.11h1.8M992.7 283.59h1.8M1001.9 283.59h1.8M1011.1 283.33h1.8M1020.3 283.94h1.8M1029.5 283.59h1.8M1038.7 283.33h1.8" stroke="#6e3a86" stroke-width="1.5" fill="none" opacity="0.8"/>
<path d="M229.5 281.9L229.2 288.1" stroke="#b840ad" stroke-width="1.2" fill="none"/>
<circle cx="229.2" cy="288.4" r="1.05" fill="#7a3a70"/>
</g>
<g id="fps-chart-navigator">
<defs><linearGradient id="sg" x1="0" y1="0" x2="0" y2="1"><stop offset="0" stop-color="#74add8"/><stop offset="0.1" stop-color="#62c0f8"/><stop offset="0.5" stop-color="#36a9fa"/><stop offset="0.85" stop-color="#38a6ea"/><stop offset="1" stop-color="#4aa6d8"/></linearGradient><linearGradient id="hg" x1="0" y1="0" x2="0" y2="1"><stop offset="0" stop-color="#efefef"/><stop offset="0.6" stop-color="#e4e4e4"/><stop offset="1" stop-color="#cbcbcb"/></linearGradient></defs>
<rect x="67" y="447.8" width="981.5" height="9.5" fill="url(#sg)"/>
<rect x="66.4" y="446.6" width="14" height="12.8" rx="0.9" fill="url(#hg)" stroke="#a4a4a6" stroke-width="0.9"/>
<path d="M67.0 446.7h12.8" stroke="#8a8a8a" stroke-width="0.7" fill="none"/>
<path d="M71.60000000000001 450.2v5.4M73.5 450.2v5.4M75.4 450.2v5.4" stroke="#6d7076" stroke-width="0.8" fill="none"/>
<rect x="1034.6" y="446.6" width="14" height="12.8" rx="0.9" fill="url(#hg)" stroke="#a4a4a6" stroke-width="0.9"/>
<path d="M1035.1999999999998 446.7h12.8" stroke="#8a8a8a" stroke-width="0.7" fill="none"/>
<path d="M1039.8 450.2v5.4M1041.6999999999998 450.2v5.4M1043.6 450.2v5.4" stroke="#6d7076" stroke-width="0.8" fill="none"/>
</g>
<g id="fps-chart-legend">
<rect x="358" y="468.3" width="10.8" height="2.8" rx="0.6" fill="#c24cc2"/>
<circle cx="363.4" cy="469.7" r="1.7" fill="#fff" fill-opacity="0.85" stroke="#c24cc2" stroke-width="1.2"/>
<text x="375.45" y="472.00" font-size="9.6" fill="#333" textLength="14.10" lengthAdjust="spacingAndGlyphs">FPS</text>
<rect x="403" y="468.3" width="10.8" height="2.8" rx="0.6" fill="#5cb878"/>
<text x="420.45" y="472.00" font-size="9.6" fill="#333" textLength="30.60" lengthAdjust="spacingAndGlyphs">Smooth</text>
<rect x="464.25" y="468.3" width="10.8" height="2.8" rx="0.6" fill="#5a5ad8"/>
<text x="482.20" y="472.00" font-size="9.6" fill="#333" textLength="38.10" lengthAdjust="spacingAndGlyphs">SmallJank</text>
<rect x="534.25" y="468.3" width="10.8" height="2.8" rx="0.6" fill="#f08440"/>
<circle cx="539.65" cy="469.7" r="1.7" fill="#fff" fill-opacity="0.85" stroke="#f08440" stroke-width="1.2"/>
<text x="551.45" y="472.00" font-size="9.6" fill="#333" textLength="16.85" lengthAdjust="spacingAndGlyphs">Jank</text>
<rect x="582.2" y="468.3" width="10.8" height="2.8" rx="0.6" fill="#dc3030"/>
<circle cx="587.6" cy="469.7" r="1.7" fill="#fff" fill-opacity="0.85" stroke="#dc3030" stroke-width="1.2"/>
<text x="599.70" y="472.00" font-size="9.6" fill="#333" textLength="29.85" lengthAdjust="spacingAndGlyphs">BigJank</text>
<rect x="643.2" y="468.3" width="10.8" height="2.8" rx="0.6" fill="#4a86e8"/>
<text x="660.45" y="472.00" font-size="9.6" fill="#333" textLength="26.10" lengthAdjust="spacingAndGlyphs">Stutter</text>
<rect x="701.25" y="468.3" width="10.8" height="2.8" rx="0.6" fill="#45c8da"/>
<text x="717.95" y="472.00" font-size="9.6" fill="#333" textLength="42.35" lengthAdjust="spacingAndGlyphs">InterFrame</text>
</g>
<g id="frametime-toolbar">
<text x="39.60" y="490.80" font-size="11.8" fill="#111" font-weight="bold" textLength="63.40" lengthAdjust="spacingAndGlyphs">Frame Time</text>
<text x="884.00" y="489.90" font-size="9.6" fill="#444" textLength="70.90" lengthAdjust="spacingAndGlyphs">FrameTime(&gt;=)</text>
<rect x="961" y="478.3" width="43" height="16" fill="#fff" stroke="#d8d8d8" stroke-width="1"/>
<text x="983.10" y="489.80" font-size="9.5" fill="#333" text-anchor="middle">100</text>
<text x="1010.90" y="489.90" font-size="9.6" fill="#444" textLength="13.50" lengthAdjust="spacingAndGlyphs">ms</text>
<text x="1031.60" y="489.60" font-size="8.6" fill="#5380e6" font-weight="bold" textLength="17.00" lengthAdjust="spacingAndGlyphs">重置</text>
</g>
<g class="wm"><text transform="translate(90 9.5) rotate(-13)" font-size="14" text-anchor="middle" fill="#000" fill-opacity="0.042">PerfDog</text><text transform="translate(358 9.5) rotate(-13)" font-size="14" text-anchor="middle" fill="#000" fill-opacity="0.042">PerfDog</text><text transform="translate(626 9.5) rotate(-13)" font-size="14" text-anchor="middle" fill="#000" fill-opacity="0.042">PerfDog</text><text transform="translate(896 9.5) rotate(-13)" font-size="14" text-anchor="middle" fill="#000" fill-opacity="0.042">PerfDog</text><text transform="translate(90 243) rotate(-13)" font-size="14" text-anchor="middle" fill="#000" fill-opacity="0.042">PerfDog</text><text transform="translate(358 243) rotate(-13)" font-size="14" text-anchor="middle" fill="#000" fill-opacity="0.042">PerfDog</text><text transform="translate(626 243) rotate(-13)" font-size="14" text-anchor="middle" fill="#000" fill-opacity="0.042">PerfDog</text><text transform="translate(896 243) rotate(-13)" font-size="14" text-anchor="middle" fill="#000" fill-opacity="0.042">PerfDog</text><text transform="translate(90 476.5) rotate(-13)" font-size="14" text-anchor="middle" fill="#000" fill-opacity="0.042">PerfDog</text><text transform="translate(358 476.5) rotate(-13)" font-size="14" text-anchor="middle" fill="#000" fill-opacity="0.042">PerfDog</text><text transform="translate(626 476.5) rotate(-13)" font-size="14" text-anchor="middle" fill="#000" fill-opacity="0.042">PerfDog</text><text transform="translate(896 476.5) rotate(-13)" font-size="14" text-anchor="middle" fill="#000" fill-opacity="0.042">PerfDog</text></g>
<g class="zh"><g fill="#4c4c4c" fill-opacity="0.72" stroke="#4c4c4c" stroke-opacity="0.72" stroke-width="0.2" font-weight="500"><text x="853.8" y="466.3" font-size="27.8" font-family="'Noto Sans CJK SC', 'Liberation Sans', sans-serif" textLength="64.7" lengthAdjust="spacingAndGlyphs">知乎</text><text x="934.1999999999999" y="462.5" font-size="24.5" font-weight="normal" font-family="'Liberation Sans', sans-serif" textLength="27.4" lengthAdjust="spacingAndGlyphs">@</text><text x="960.9" y="466.3" font-size="27.8" font-family="'Noto Sans CJK SC', 'Liberation Sans', sans-serif" textLength="91.6" lengthAdjust="spacingAndGlyphs">教坊司</text></g><g fill="#fff" fill-opacity="0.9" stroke="#fff" stroke-opacity="0.9" stroke-width="0.2" font-weight="500"><text x="852.5" y="465.0" font-size="27.8" font-family="'Noto Sans CJK SC', 'Liberation Sans', sans-serif" textLength="64.7" lengthAdjust="spacingAndGlyphs">知乎</text><text x="932.9" y="461.2" font-size="24.5" font-weight="normal" font-family="'Liberation Sans', sans-serif" textLength="27.4" lengthAdjust="spacingAndGlyphs">@</text><text x="959.6" y="465.0" font-size="27.8" font-family="'Noto Sans CJK SC', 'Liberation Sans', sans-serif" textLength="91.6" lengthAdjust="spacingAndGlyphs">教坊司</text></g></g>
</svg>
</body>
</html>
